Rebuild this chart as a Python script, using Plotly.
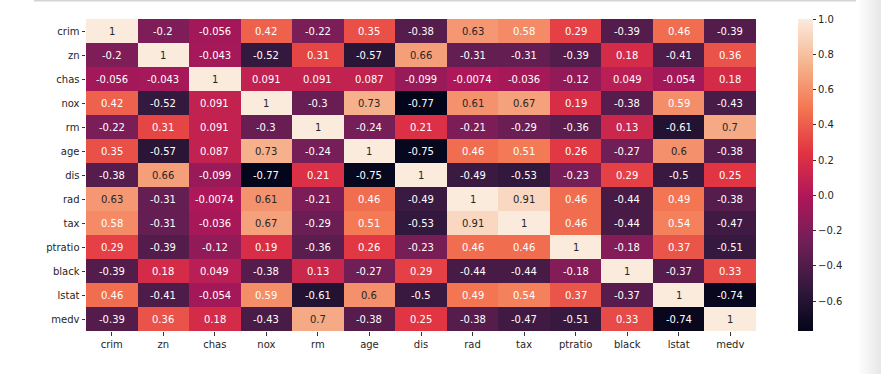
import plotly.graph_objects as go

labels = ["crim", "zn", "chas", "nox", "rm", "age", "dis", "rad", "tax",
          "ptratio", "black", "lstat", "medv"]

crim = [1, -0.2, -0.056, 0.42, -0.22, 0.35, -0.38, 0.63, 0.58, 0.29, -0.39, 0.46, -0.39]
zn = [-0.2, 1, -0.043, -0.52, 0.31, -0.57, 0.66, -0.31, -0.31, -0.39, 0.18, -0.41, 0.36]
chas = [-0.056, -0.043, 1, 0.091, 0.091, 0.087, -0.099, -0.0074, -0.036, -0.12, 0.049, -0.054, 0.18]
nox = [0.42, -0.52, 0.091, 1, -0.3, 0.73, -0.77, 0.61, 0.67, 0.19, -0.38, 0.59, -0.43]
rm = [-0.22, 0.31, 0.091, -0.3, 1, -0.24, 0.21, -0.21, -0.29, -0.36, 0.13, -0.61, 0.7]
age = [0.35, -0.57, 0.087, 0.73, -0.24, 1, -0.75, 0.46, 0.51, 0.26, -0.27, 0.6, -0.38]
dis = [-0.38, 0.66, -0.099, -0.77, 0.21, -0.75, 1, -0.49, -0.53, -0.23, 0.29, -0.5, 0.25]
rad = [0.63, -0.31, -0.0074, 0.61, -0.21, 0.46, -0.49, 1, 0.91, 0.46, -0.44, 0.49, -0.38]
tax = [0.58, -0.31, -0.036, 0.67, -0.29, 0.51, -0.53, 0.91, 1, 0.46, -0.44, 0.54, -0.47]
ptratio = [0.29, -0.39, -0.12, 0.19, -0.36, 0.26, -0.23, 0.46, 0.46, 1, -0.18, 0.37, -0.51]
black = [-0.39, 0.18, 0.049, -0.38, 0.13, -0.27, 0.29, -0.44, -0.44, -0.18, 1, -0.37, 0.33]
lstat = [0.46, -0.41, -0.054, 0.59, -0.61, 0.6, -0.5, 0.49, 0.54, 0.37, -0.37, 1, -0.74]
medv = [-0.39, 0.36, 0.18, -0.43, 0.7, -0.38, 0.25, -0.38, -0.47, -0.51, 0.33, -0.74, 1]

colorbar_ticks = [-0.6, -0.4, -0.2, 0.0, 0.2, 0.4, 0.6, 0.8, 1.0]

matrix = [crim, zn, chas, nox, rm, age, dis, rad, tax, ptratio, black, lstat, medv]

# seaborn "rocket" colormap (approximate)
rocket = [
    [0.0, "#03051A"],
    [0.143, "#35193E"],
    [0.286, "#701F57"],
    [0.429, "#AD1759"],
    [0.571, "#E13342"],
    [0.714, "#F37651"],
    [0.857, "#F6B48F"],
    [1.0, "#FAEBDD"],
]

zmin = min(min(r) for r in matrix)
zmax = max(max(r) for r in matrix)

fig = go.Figure()
fig.add_trace(go.Heatmap(
    z=matrix, x=labels, y=labels,
    colorscale=rocket, zmin=zmin, zmax=zmax,
    hoverinfo="skip",
    colorbar=dict(
        thickness=15, thicknessmode="pixels",
        len=1, lenmode="fraction",
        x=1.0627, xanchor="left", xpad=0,
        y=0.5, yanchor="middle", ypad=0,
        outlinewidth=0,
        tickvals=colorbar_ticks, tickformat=".1f",
        ticks="outside", ticklen=3.5, tickwidth=1, tickcolor="#333333",
        tickfont=dict(family="DejaVu Sans", size=10, color="#262626"),
    ),
))

for i, row_name in enumerate(labels):
    for j, col_name in enumerate(labels):
        v = matrix[i][j]
        color = "#262626" if v >= 0.595 else "#ffffff"
        fig.add_annotation(
            x=col_name, y=row_name, text=format(v, ".2g"),
            showarrow=False,
            font=dict(family="DejaVu Sans", size=10, color=color),
        )

# notebook cell border line at top
fig.add_shape(type="line", xref="paper", yref="paper",
              x0=(34 - 86) / 670, x1=(856 - 86) / 670,
              y0=1 + 18.5 / 312, y1=1 + 18.5 / 312,
              line=dict(color="#d4d4d4", width=2))

# right-side shadow gradient
n = 12
for k in range(n):
    g = int(255 - (255 - 232) * (k + 1) / n)
    x0 = (858 + k * 2 - 86) / 670
    x1 = (858 + (k + 1) * 2 - 86) / 670 if k < n - 1 else (881 - 86) / 670
    fig.add_shape(type="rect", xref="paper", yref="paper",
                  x0=x0, x1=x1, y0=-43 / 312, y1=1 + 19 / 312,
                  line=dict(width=0),
                  fillcolor=f"rgb({g},{g},{g})")

fig.update_layout(
    width=881, height=374,
    margin=dict(l=86, r=125, t=19, b=43),
    paper_bgcolor="white", plot_bgcolor="white",
    font=dict(family="DejaVu Sans", size=10, color="#262626"),
    xaxis=dict(
        showgrid=False, zeroline=False, ticks="outside", ticklen=3.5,
        tickcolor="#333333", tickfont=dict(size=10, color="#262626"),
        showline=False,
    ),
    yaxis=dict(
        autorange="reversed", showgrid=False, zeroline=False,
        ticks="outside", ticklen=3.5, tickcolor="#333333",
        tickfont=dict(size=10, color="#262626"), showline=False,
    ),
)

fig.write_html("out.html",
               config={"displayModeBar": False},
               post_script="document.body.style.margin='0px';document.body.style.overflow='hidden';")
